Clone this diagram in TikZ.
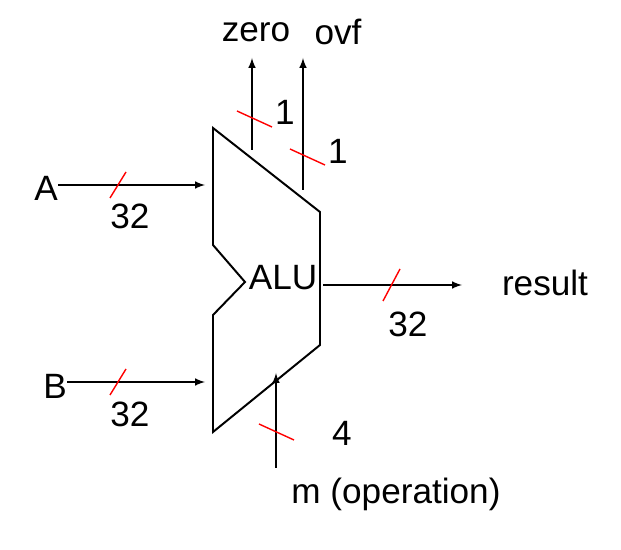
\documentclass[tikz,border=0pt]{standalone}
\usepackage{fontspec}
\setmainfont{Liberation Sans}
\begin{document}
\begin{tikzpicture}[x=0.025cm,y=-0.025cm,
  wire/.style={line width=1.4pt,-latex},
  slash/.style={red,line width=1pt},
  lbl/.style={font=\fontsize{25}{29}\selectfont,inner sep=0pt}]
\useasboundingbox (0,0) rectangle (621,550);
\draw[line width=1.4pt] (213,128) -- (213,245) -- (245,282) -- (213,315) -- (213,432) -- (320,345) -- (320,212) -- cycle;
\node[lbl] (alu) at (283,278) {ALU};
% A
\node[lbl] (a) at (46,188) {A};
\coordinate (ae) at (205,185);
\draw[wire] (a.east |- ae) -- (ae);
\draw[slash] (110,198) -- (126,172);
\node[lbl] at (130,216) {32};
% B
\node[lbl] (b) at (55,386) {B};
\coordinate (be) at (205,382);
\draw[wire] (b.east |- be) -- (be);
\draw[slash] (110,395) -- (126,369);
\node[lbl] at (130,414) {32};
% zero
\node[lbl] (zero) at (256,32) {zero};
\coordinate (zs) at (252,150);
\draw[wire] (zs) -- (252,58);
\draw[slash] (237,111) -- (272,127);
\node[lbl] at (285,112) {1};
% ovf
\node[lbl] (ovf) at (338,32) {ovf};
\coordinate (os) at (303,190);
\draw[wire] (os) -- (303,58);
\draw[slash] (290,149) -- (325,165);
\node[lbl] at (338,151) {1};
% result
\node[lbl] (res) at (545,283) {result};
\coordinate (rs) at (323,285);
\draw[wire] (rs) -- (462,285);
\draw[slash] (383,301) -- (400,269);
\node[lbl] at (408,324) {32};
% m
\node[lbl] (m) at (396,494) {m (operation)};
\coordinate (ms) at (276,468);
\draw[wire] (ms) -- (276,373);
\draw[slash] (259,424) -- (294,440);
\node[lbl] at (342,433) {4};
\end{tikzpicture}
\end{document}
